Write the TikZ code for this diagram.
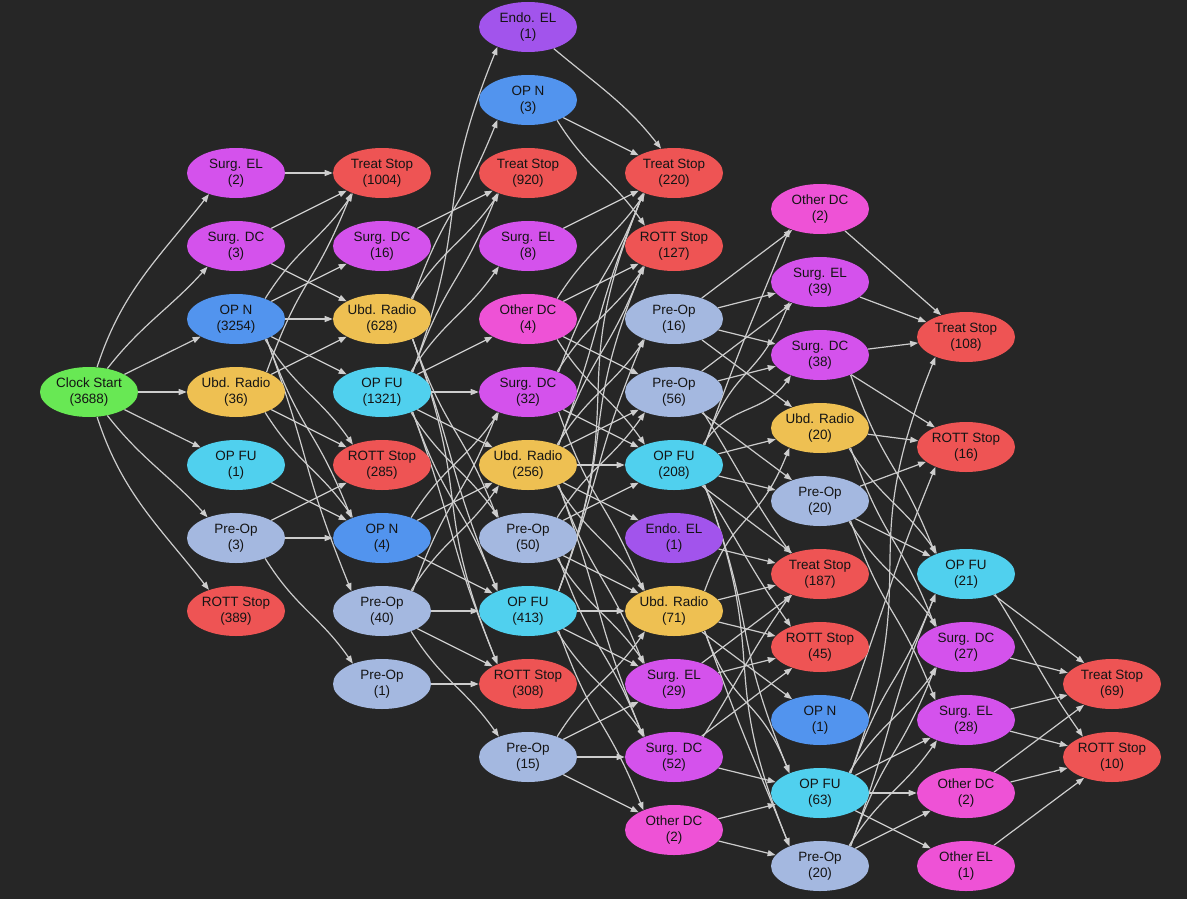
\documentclass[tikz,border=0pt]{standalone}
\usepackage{fontspec}
\setmainfont{Liberation Sans}
\usetikzlibrary{shapes.geometric,arrows.meta}
\pgfdeclarelayer{bgfill}
\pgfdeclarelayer{edges}
\pgfsetlayers{bgfill,edges,main}
\definecolor{bgc}{RGB}{38,38,38}
\definecolor{cgreen}{RGB}{104,232,84}
\definecolor{cred}{RGB}{238,84,84}
\definecolor{csurg}{RGB}{212,82,236}
\definecolor{cother}{RGB}{238,82,214}
\definecolor{cendo}{RGB}{162,84,236}
\definecolor{copn}{RGB}{82,148,238}
\definecolor{copfu}{RGB}{80,208,238}
\definecolor{cur}{RGB}{238,192,82}
\definecolor{cpre}{RGB}{164,184,224}
\definecolor{cedge}{RGB}{205,205,205}
\tikzset{
  nd/.style={ellipse, minimum width=73.5pt, minimum height=37.5pt, inner sep=0pt,
    align=center, font=\fontsize{10.1}{12}\selectfont, text=black!92},
  kstart/.style={nd, fill=cgreen},
  kstop/.style={nd, fill=cred},
  ksurg/.style={nd, fill=csurg},
  kother/.style={nd, fill=cother},
  kendo/.style={nd, fill=cendo},
  kopn/.style={nd, fill=copn},
  kopfu/.style={nd, fill=copfu},
  kur/.style={nd, fill=cur},
  kpre/.style={nd, fill=cpre},
  edge/.style={draw=cedge, line width=0.9pt, -{Triangle[length=6pt,width=4.5pt]}}
}
\newcommand\ES[2]{\draw[edge] (#1) -- (#2);}
\newcommand\EU[2]{\draw[edge] (#1.35) to[out=58,in=-125,looseness=1.1] (#2.215);}
\newcommand\EUU[2]{\draw[edge] (#1.33) to[out=70,in=-112,looseness=1.35] (#2.213);}
\newcommand\ED[2]{\draw[edge] (#1.-35) to[out=-58,in=125,looseness=1.1] (#2.145);}
\newcommand\EDD[2]{\draw[edge] (#1.-33) to[out=-70,in=112,looseness=1.35] (#2.147);}
\begin{document}
\begin{tikzpicture}[x=0.75pt,y=0.75pt]
\begin{pgfonlayer}{bgfill}
\fill[bgc] (0,0) rectangle (1187,-899);
\end{pgfonlayer}
\useasboundingbox (0,0) rectangle (1187,-899);
% column 0
\node[kstart] (cs) at (89,-392) {Clock Start\\(3688)};
% column 1
\node[ksurg] (s1el) at (236,-173) {Surg. EL\\(2)};
\node[ksurg] (s1dc) at (236,-246) {Surg. DC\\(3)};
\node[kopn] (s1opn) at (236,-319) {OP N\\(3254)};
\node[kur] (s1ur) at (236,-392) {Ubd. Radio\\(36)};
\node[kopfu] (s1opfu) at (236,-465) {OP FU\\(1)};
\node[kpre] (s1pre) at (236,-538) {Pre-Op\\(3)};
\node[kstop] (s1rott) at (236,-611) {ROTT Stop\\(389)};
% column 2
\node[kstop] (s2ts) at (382,-173) {Treat Stop\\(1004)};
\node[ksurg] (s2dc) at (382,-246) {Surg. DC\\(16)};
\node[kur] (s2ur) at (382,-319) {Ubd. Radio\\(628)};
\node[kopfu] (s2opfu) at (382,-392) {OP FU\\(1321)};
\node[kstop] (s2rott) at (382,-465) {ROTT Stop\\(285)};
\node[kopn] (s2opn) at (382,-538) {OP N\\(4)};
\node[kpre] (s2preA) at (382,-611) {Pre-Op\\(40)};
\node[kpre] (s2preB) at (382,-684) {Pre-Op\\(1)};
% column 3
\node[kendo] (s3endo) at (528,-27) {Endo. EL\\(1)};
\node[kopn] (s3opn) at (528,-100) {OP N\\(3)};
\node[kstop] (s3ts) at (528,-173) {Treat Stop\\(920)};
\node[ksurg] (s3el) at (528,-246) {Surg. EL\\(8)};
\node[kother] (s3odc) at (528,-319) {Other DC\\(4)};
\node[ksurg] (s3dc) at (528,-392) {Surg. DC\\(32)};
\node[kur] (s3ur) at (528,-465) {Ubd. Radio\\(256)};
\node[kpre] (s3pre) at (528,-538) {Pre-Op\\(50)};
\node[kopfu] (s3opfu) at (528,-611) {OP FU\\(413)};
\node[kstop] (s3rott) at (528,-684) {ROTT Stop\\(308)};
\node[kpre] (s3preB) at (528,-757) {Pre-Op\\(15)};
% column 4
\node[kstop] (s4ts) at (674,-173) {Treat Stop\\(220)};
\node[kstop] (s4rott) at (674,-246) {ROTT Stop\\(127)};
\node[kpre] (s4preA) at (674,-319) {Pre-Op\\(16)};
\node[kpre] (s4preB) at (674,-392) {Pre-Op\\(56)};
\node[kopfu] (s4opfu) at (674,-465) {OP FU\\(208)};
\node[kendo] (s4endo) at (674,-538) {Endo. EL\\(1)};
\node[kur] (s4ur) at (674,-611) {Ubd. Radio\\(71)};
\node[ksurg] (s4el) at (674,-684) {Surg. EL\\(29)};
\node[ksurg] (s4dc) at (674,-757) {Surg. DC\\(52)};
\node[kother] (s4odc) at (674,-830) {Other DC\\(2)};
% column 5
\node[kother] (s5odc) at (820,-209) {Other DC\\(2)};
\node[ksurg] (s5el) at (820,-282) {Surg. EL\\(39)};
\node[ksurg] (s5dc) at (820,-355) {Surg. DC\\(38)};
\node[kur] (s5ur) at (820,-428) {Ubd. Radio\\(20)};
\node[kpre] (s5pre) at (820,-501) {Pre-Op\\(20)};
\node[kstop] (s5ts) at (820,-574) {Treat Stop\\(187)};
\node[kstop] (s5rott) at (820,-647) {ROTT Stop\\(45)};
\node[kopn] (s5opn) at (820,-720) {OP N\\(1)};
\node[kopfu] (s5opfu) at (820,-793) {OP FU\\(63)};
\node[kpre] (s5preB) at (820,-866) {Pre-Op\\(20)};
% column 6
\node[kstop] (s6ts) at (966,-337) {Treat Stop\\(108)};
\node[kstop] (s6rott) at (966,-447) {ROTT Stop\\(16)};
\node[kopfu] (s6opfu) at (966,-574) {OP FU\\(21)};
\node[ksurg] (s6dc) at (966,-647) {Surg. DC\\(27)};
\node[ksurg] (s6el) at (966,-720) {Surg. EL\\(28)};
\node[kother] (s6odc) at (966,-793) {Other DC\\(2)};
\node[kother] (s6oel) at (966,-866) {Other EL\\(1)};
% column 7
\node[kstop] (s7ts) at (1112,-684) {Treat Stop\\(69)};
\node[kstop] (s7rott) at (1112,-757) {ROTT Stop\\(10)};

\begin{pgfonlayer}{edges}
% col0
\draw[edge] (cs.72) to[out=72,in=-128] (s1el.218);
\draw[edge] (cs.52) to[out=52,in=-132] (s1dc.216);
\ES{cs}{s1opn} \ES{cs}{s1ur} \ES{cs}{s1opfu}
\draw[edge] (cs.-52) to[out=-52,in=132] (s1pre.144);
\draw[edge] (cs.-72) to[out=-72,in=128] (s1rott.142);
% col1
\ES{s1el}{s2ts} \ES{s1dc}{s2ts} \ES{s1dc}{s2ur}
\EU{s1opn}{s2ts} \ES{s1opn}{s2dc} \ES{s1opn}{s2ur} \ES{s1opn}{s2opfu}
\ED{s1opn}{s2rott} \EDD{s1opn}{s2opn} \EDD{s1opn}{s2preA}
\EUU{s1ur}{s2ts} \ES{s1ur}{s2ur} \ES{s1ur}{s2rott} \ED{s1ur}{s2opn}
\ES{s1opfu}{s2opn}
\ES{s1pre}{s2rott} \ES{s1pre}{s2opn} \ED{s1pre}{s2preB}
% col2
\ES{s2dc}{s3ts}
\EU{s2ur}{s3ts} \EUU{s2ur}{s3opn} \EDD{s2ur}{s3pre} \EDD{s2ur}{s3opfu} \EDD{s2ur}{s3rott}
\EUU{s2opfu}{s3endo} \EUU{s2opfu}{s3ts} \EU{s2opfu}{s3el} \ES{s2opfu}{s3odc}
\ES{s2opfu}{s3dc} \ES{s2opfu}{s3ur} \ED{s2opfu}{s3pre} \EDD{s2opfu}{s3opfu} \EDD{s2opfu}{s3rott}
\EU{s2opn}{s3dc} \ES{s2opn}{s3ur} \ES{s2opn}{s3opfu}
\EU{s2preA}{s3ur} \EUU{s2preA}{s3dc} \ES{s2preA}{s3opfu} \ES{s2preA}{s3rott} \ED{s2preA}{s3preB}
\ES{s2preB}{s3rott}
% col3
\draw[edge] (s3endo.-40) to[out=-40,in=128] (s4ts.118);
\ES{s3opn}{s4ts} \ED{s3opn}{s4rott}
\ES{s3el}{s4ts}
\EU{s3odc}{s4ts} \ES{s3odc}{s4rott} \ES{s3odc}{s4preB} \ED{s3odc}{s4opfu}
\EUU{s3dc}{s4ts} \EU{s3dc}{s4rott} \ES{s3dc}{s4opfu} \EDD{s3dc}{s4ur}
\EUU{s3ur}{s4ts} \EUU{s3ur}{s4rott} \EU{s3ur}{s4preA} \ES{s3ur}{s4preB} \ES{s3ur}{s4opfu}
\ES{s3ur}{s4endo} \ED{s3ur}{s4ur} \EDD{s3ur}{s4el} \EDD{s3ur}{s4dc}
\EU{s3pre}{s4preB} \ES{s3pre}{s4opfu} \ES{s3pre}{s4ur} \ED{s3pre}{s4el} \EDD{s3pre}{s4dc}
\EUU{s3opfu}{s4ts} \EUU{s3opfu}{s4rott} \EUU{s3opfu}{s4preA} \ES{s3opfu}{s4ur}
\ES{s3opfu}{s4el} \ED{s3opfu}{s4dc} \EDD{s3opfu}{s4odc}
\EU{s3preB}{s4ur} \ES{s3preB}{s4el} \ES{s3preB}{s4dc} \ES{s3preB}{s4odc}
% col4
\ES{s4preA}{s5odc} \ES{s4preA}{s5el} \ES{s4preA}{s5dc} \ES{s4preA}{s5ur}
\ES{s4preB}{s5el} \ES{s4preB}{s5dc} \ES{s4preB}{s5pre} \ED{s4preB}{s5ts}
\EUU{s4opfu}{s5odc} \EUU{s4opfu}{s5el} \EU{s4opfu}{s5dc} \ES{s4opfu}{s5ur}
\ES{s4opfu}{s5pre} \ES{s4opfu}{s5ts} \ED{s4opfu}{s5rott} \EDD{s4opfu}{s5opfu} \EDD{s4opfu}{s5preB}
\ES{s4endo}{s5ts}
\EUU{s4ur}{s5ur} \ES{s4ur}{s5ts} \ES{s4ur}{s5rott} \ES{s4ur}{s5opn} \EDD{s4ur}{s5opfu} \EDD{s4ur}{s5preB}
\ES{s4el}{s5ts} \ES{s4el}{s5rott}
\EU{s4dc}{s5ts} \ES{s4dc}{s5rott} \ES{s4dc}{s5opfu}
\ES{s4odc}{s5opfu} \ES{s4odc}{s5preB}
% col5
\ES{s5odc}{s6ts} \ES{s5el}{s6ts}
\ES{s5dc}{s6ts} \ES{s5dc}{s6rott} \EDD{s5dc}{s6opfu}
\ES{s5ur}{s6rott} \ED{s5ur}{s6opfu} \EDD{s5ur}{s6dc}
\ES{s5pre}{s6rott} \ES{s5pre}{s6opfu} \ED{s5pre}{s6dc} \EDD{s5pre}{s6el}
\EUU{s5opn}{s6rott}
\EUU{s5opfu}{s6ts} \EUU{s5opfu}{s6opfu} \EU{s5opfu}{s6dc} \ES{s5opfu}{s6el}
\ES{s5opfu}{s6odc} \ES{s5opfu}{s6oel}
\EUU{s5preB}{s6opfu} \EUU{s5preB}{s6dc} \EU{s5preB}{s6el} \ES{s5preB}{s6odc}
% col6
\ES{s6opfu}{s7ts} \ED{s6opfu}{s7rott}
\ES{s6dc}{s7ts}
\ES{s6el}{s7ts} \ES{s6el}{s7rott}
\ES{s6odc}{s7ts} \ES{s6odc}{s7rott}
\ES{s6oel}{s7rott}
\end{pgfonlayer}
\end{tikzpicture}
\end{document}
